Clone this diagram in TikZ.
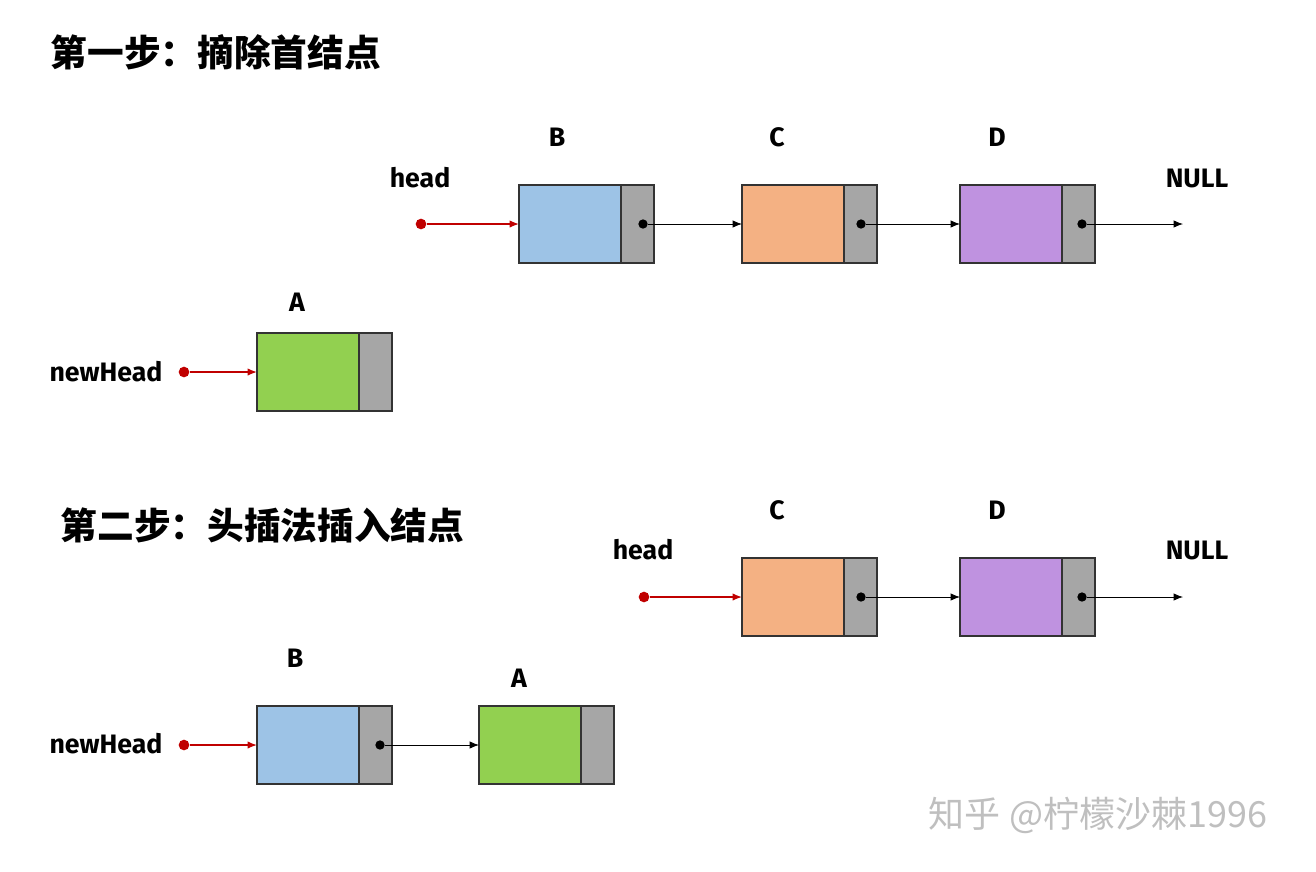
\documentclass[tikz,border=0pt]{standalone}
\usepackage{fontspec}
\setmainfont{Fira Sans}
\newfontfamily\cjk{Noto Sans CJK SC}
\usetikzlibrary{positioning,arrows.meta}
\definecolor{cB}{HTML}{9DC3E6}
\definecolor{cC}{HTML}{F4B183}
\definecolor{cD}{HTML}{BF92E0}
\definecolor{cA}{HTML}{92D050}
\definecolor{cP}{HTML}{A6A6A6}
\definecolor{rd}{HTML}{C00000}
\tikzset{
 databox/.style={draw=black!80,line width=0.9pt,minimum width=76.5pt,minimum height=58.5pt,inner sep=0pt,outer sep=0pt},
 ptrbox/.style={draw=black!80,line width=0.9pt,fill=cP,minimum width=24.75pt,minimum height=58.5pt,inner sep=0pt,outer sep=0pt},
 lbl/.style={font=\bfseries\fontsize{20}{23}\selectfont},
 ttl/.style={font=\cjk\bfseries\fontsize{27.5}{31}\selectfont,anchor=west},
 link/.style={-{Latex[length=7pt,width=5.5pt]},line width=0.6pt},
 rlink/.style={-{Latex[length=7pt,width=5.5pt]},line width=1pt,draw=rd},
 dot/.style={circle,fill=black,inner sep=0pt,minimum size=7pt},
 rdot/.style={circle,fill=rd,inner sep=0pt,minimum size=8pt}
}
\begin{document}
\begin{tikzpicture}[x=0.75pt,y=-0.75pt]
\useasboundingbox (0,0) rectangle (1316,871);
% step 1
\node[ttl] (t1) at (46,52) {第一步：摘除首结点};
\node[databox,fill=cB,anchor=north west] (b1) at (519,185) {};
\node[ptrbox,right=0pt of b1] (b1p) {};
\node[databox,fill=cC,anchor=north west] (c1) at (742,185) {};
\node[ptrbox,right=0pt of c1] (c1p) {};
\node[databox,fill=cD,anchor=north west] (d1) at (960,185) {};
\node[ptrbox,right=0pt of d1] (d1p) {};
\node[lbl] (lb1) at (557,137) {B};
\node[lbl] (lc1) at (777,137) {C};
\node[lbl] (ld1) at (997,137) {D};
\node[lbl] (h1) at (420,178) {head};
\node[lbl] (n1) at (1197,178) {NULL};
\node[rdot] (h1d) at (421,224) {};
\draw[rlink] (h1d) -- (b1.west);
\node[dot] (b1d) at (643,224) {};
\node[dot] (c1d) at (861,224) {};
\node[dot] (d1d) at (1082,224) {};
\coordinate (e1) at (1183,224);
\draw[link] (b1d) -- (c1.west);
\draw[link] (c1d) -- (d1.west);
\draw[link] (d1d) -- (e1);
\node[databox,fill=cA,anchor=north west] (a1) at (257,333) {};
\node[ptrbox,right=0pt of a1] (a1p) {};
\node[lbl] (la1) at (297,302) {A};
\node[lbl] (nh1) at (106,372) {newHead};
\node[rdot] (nh1d) at (184,372) {};
\draw[rlink] (nh1d) -- (a1.west);
% step 2
\node[ttl] (t2) at (56,525) {第二步：头插法插入结点};
\node[databox,fill=cC,anchor=north west] (c2) at (742,558) {};
\node[ptrbox,right=0pt of c2] (c2p) {};
\node[databox,fill=cD,anchor=north west] (d2) at (960,558) {};
\node[ptrbox,right=0pt of d2] (d2p) {};
\node[lbl] (lc2) at (777,510) {C};
\node[lbl] (ld2) at (997,510) {D};
\node[lbl] (h2) at (643,550) {head};
\node[lbl] (n2) at (1197,550) {NULL};
\node[rdot] (h2d) at (644,597) {};
\draw[rlink] (h2d) -- (c2.west);
\node[dot] (c2d) at (861,597) {};
\node[dot] (d2d) at (1082,597) {};
\coordinate (e2) at (1183,597);
\draw[link] (c2d) -- (d2.west);
\draw[link] (d2d) -- (e2);
\node[databox,fill=cB,anchor=north west] (b2) at (257,706) {};
\node[ptrbox,right=0pt of b2] (b2p) {};
\node[databox,fill=cA,anchor=north west] (a2) at (479,706) {};
\node[ptrbox,right=0pt of a2] (a2p) {};
\node[lbl] (lb2) at (295,658) {B};
\node[lbl] (la2) at (519,678) {A};
\node[lbl] (nh2) at (106,744) {newHead};
\node[rdot] (nh2d) at (184,745) {};
\draw[rlink] (nh2d) -- (b2.west);
\node[dot] (b2d) at (380,745) {};
\draw[link] (b2d) -- (a2.west);
\node[font=\cjk\fontsize{27}{30}\selectfont,text=black!25] (wm) at (1098,815) {知乎 @柠檬沙棘1996};
\end{tikzpicture}
\end{document}
